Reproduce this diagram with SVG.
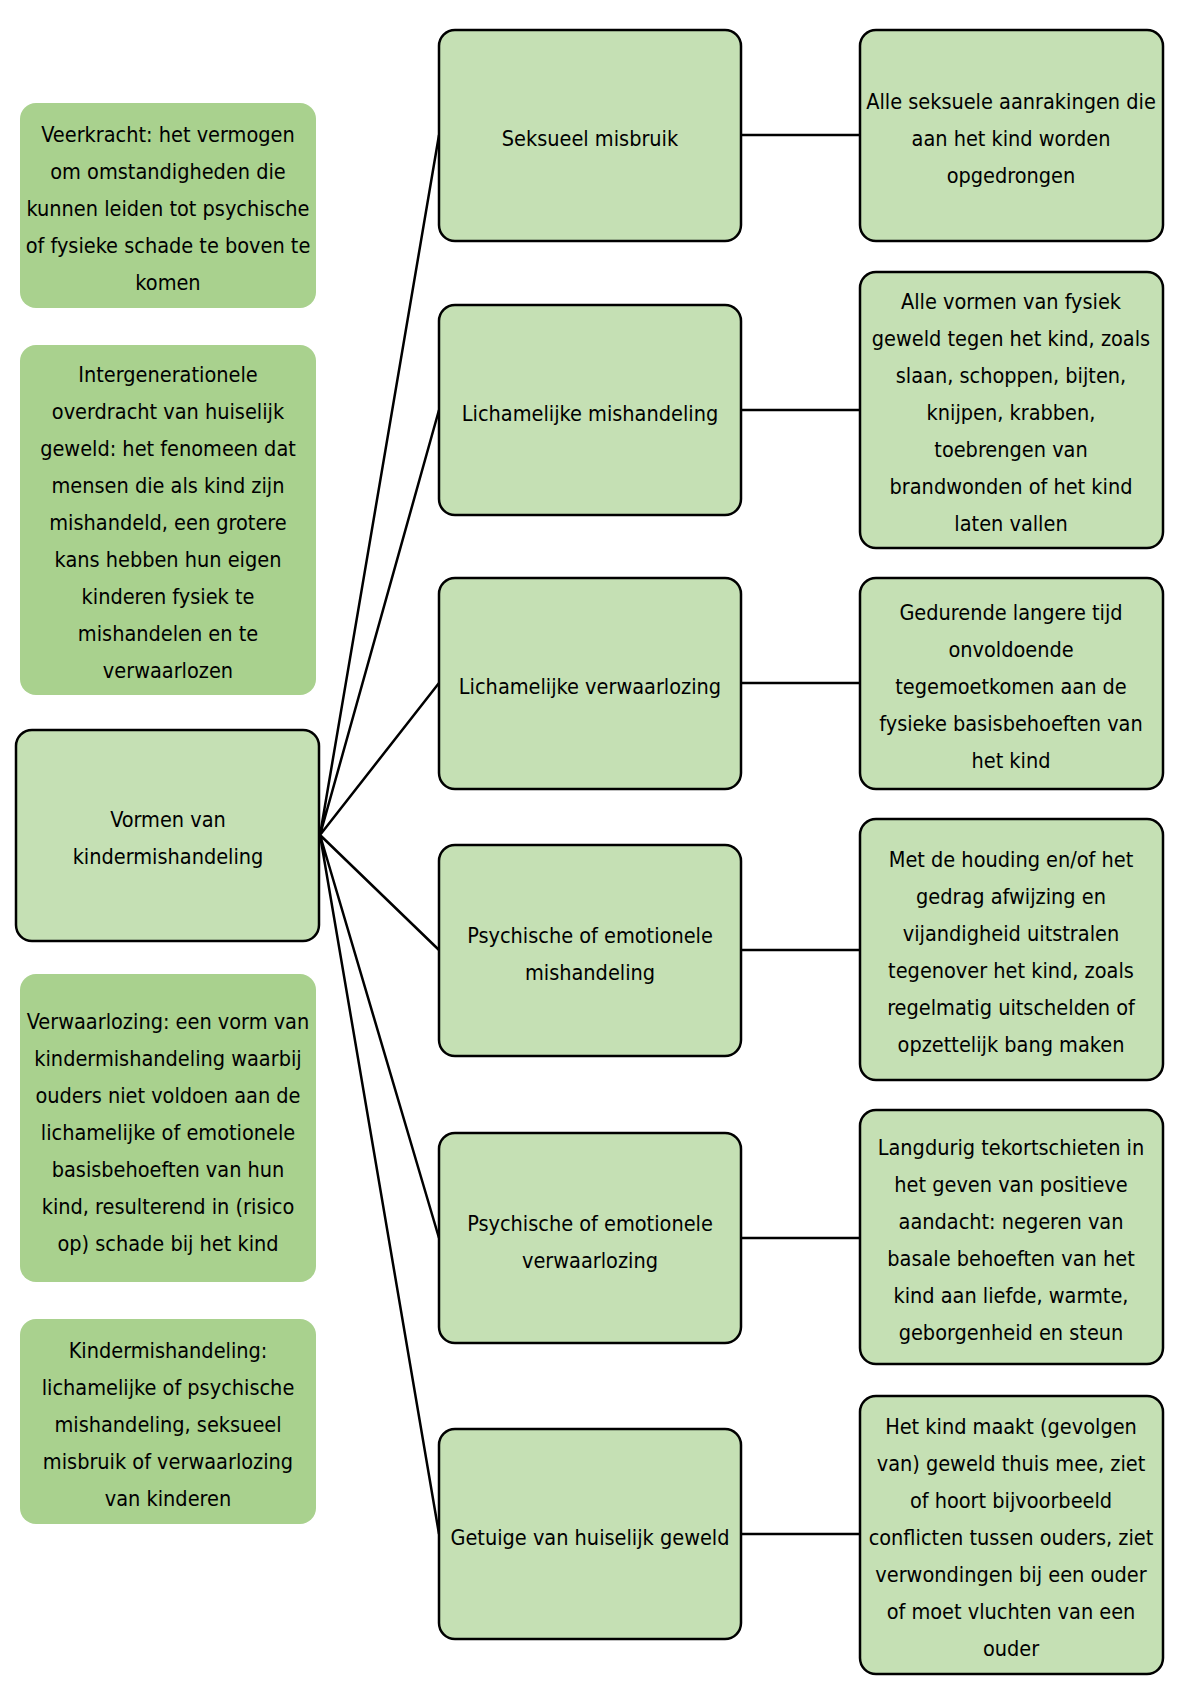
<svg xmlns="http://www.w3.org/2000/svg" width="1200" height="1698" viewBox="0 0 1200 1698">
<style>
.n{fill:#c5e0b4;stroke:#000;stroke-width:2.5}
.d{fill:#a9d18e}
text{font-family:"DejaVu Sans Condensed","Liberation Sans Narrow","Liberation Sans",sans-serif;font-size:21.5px;text-anchor:middle;fill:#000}
.c{stroke:#000;stroke-width:2.5;fill:none}
</style>
<rect width="1200" height="1698" fill="#fff"/>
<g id="connectors">
<path class="c" d="M320 835L439 135M320 835L439 410M320 835L439 683M320 835L439 950M320 835L439 1238M320 835L439 1534"/>
<path class="c" d="M741 135H860M741 410H860M741 683H860M741 950H860M741 1238H860M741 1534H860"/>
</g>
<g id="def1"><rect class="d" x="20" y="103" width="296" height="205" rx="16"/>
<text x="168" y="142">Veerkracht: het vermogen</text><text x="168" y="179">om omstandigheden die</text><text x="168" y="216">kunnen leiden tot psychische</text><text x="168" y="253">of fysieke schade te boven te</text><text x="168" y="290">komen</text></g>
<g id="def2"><rect class="d" x="20" y="345" width="296" height="350" rx="16"/>
<text x="168" y="382">Intergenerationele</text><text x="168" y="419">overdracht van huiselijk</text><text x="168" y="456">geweld: het fenomeen dat</text><text x="168" y="493">mensen die als kind zijn</text><text x="168" y="530">mishandeld, een grotere</text><text x="168" y="567">kans hebben hun eigen</text><text x="168" y="604">kinderen fysiek te</text><text x="168" y="641">mishandelen en te</text><text x="168" y="678">verwaarlozen</text></g>
<g id="root"><rect class="n" x="16" y="730" width="303" height="211" rx="16"/>
<text x="168" y="827">Vormen van</text><text x="168" y="864">kindermishandeling</text></g>
<g id="def3"><rect class="d" x="20" y="974" width="296" height="308" rx="16"/>
<text x="168" y="1029">Verwaarlozing: een vorm van</text><text x="168" y="1066">kindermishandeling waarbij</text><text x="168" y="1103">ouders niet voldoen aan de</text><text x="168" y="1140">lichamelijke of emotionele</text><text x="168" y="1177">basisbehoeften van hun</text><text x="168" y="1214">kind, resulterend in (risico</text><text x="168" y="1251">op) schade bij het kind</text></g>
<g id="def4"><rect class="d" x="20" y="1319" width="296" height="205" rx="16"/>
<text x="168" y="1358">Kindermishandeling:</text><text x="168" y="1395">lichamelijke of psychische</text><text x="168" y="1432">mishandeling, seksueel</text><text x="168" y="1469">misbruik of verwaarlozing</text><text x="168" y="1506">van kinderen</text></g>
<g id="m1"><rect class="n" x="439" y="30" width="302" height="211" rx="16"/><text x="590" y="146">Seksueel misbruik</text></g>
<g id="m2"><rect class="n" x="439" y="305" width="302" height="210" rx="16"/><text x="590" y="421">Lichamelijke mishandeling</text></g>
<g id="m3"><rect class="n" x="439" y="578" width="302" height="211" rx="16"/><text x="590" y="694">Lichamelijke verwaarlozing</text></g>
<g id="m4"><rect class="n" x="439" y="845" width="302" height="211" rx="16"/><text x="590" y="943">Psychische of emotionele</text><text x="590" y="980">mishandeling</text></g>
<g id="m5"><rect class="n" x="439" y="1133" width="302" height="210" rx="16"/><text x="590" y="1231">Psychische of emotionele</text><text x="590" y="1268">verwaarlozing</text></g>
<g id="m6"><rect class="n" x="439" y="1429" width="302" height="210" rx="16"/><text x="590" y="1545">Getuige van huiselijk geweld</text></g>
<g id="r1"><rect class="n" x="860" y="30" width="303" height="211" rx="16"/>
<text x="1011" y="109">Alle seksuele aanrakingen die</text><text x="1011" y="146">aan het kind worden</text><text x="1011" y="183">opgedrongen</text></g>
<g id="r2"><rect class="n" x="860" y="272" width="303" height="276" rx="16"/>
<text x="1011" y="309">Alle vormen van fysiek</text><text x="1011" y="346">geweld tegen het kind, zoals</text><text x="1011" y="383">slaan, schoppen, bijten,</text><text x="1011" y="420">knijpen, krabben,</text><text x="1011" y="457">toebrengen van</text><text x="1011" y="494">brandwonden of het kind</text><text x="1011" y="531">laten vallen</text></g>
<g id="r3"><rect class="n" x="860" y="578" width="303" height="211" rx="16"/>
<text x="1011" y="620">Gedurende langere tijd</text><text x="1011" y="657">onvoldoende</text><text x="1011" y="694">tegemoetkomen aan de</text><text x="1011" y="731">fysieke basisbehoeften van</text><text x="1011" y="768">het kind</text></g>
<g id="r4"><rect class="n" x="860" y="819" width="303" height="261" rx="16"/>
<text x="1011" y="867">Met de houding en/of het</text><text x="1011" y="904">gedrag afwijzing en</text><text x="1011" y="941">vijandigheid uitstralen</text><text x="1011" y="978">tegenover het kind, zoals</text><text x="1011" y="1015">regelmatig uitschelden of</text><text x="1011" y="1052">opzettelijk bang maken</text></g>
<g id="r5"><rect class="n" x="860" y="1110" width="303" height="254" rx="16"/>
<text x="1011" y="1155">Langdurig tekortschieten in</text><text x="1011" y="1192">het geven van positieve</text><text x="1011" y="1229">aandacht: negeren van</text><text x="1011" y="1266">basale behoeften van het</text><text x="1011" y="1303">kind aan liefde, warmte,</text><text x="1011" y="1340">geborgenheid en steun</text></g>
<g id="r6"><rect class="n" x="860" y="1396" width="303" height="278" rx="16"/>
<text x="1011" y="1434">Het kind maakt (gevolgen</text><text x="1011" y="1471">van) geweld thuis mee, ziet</text><text x="1011" y="1508">of hoort bijvoorbeeld</text><text x="1011" y="1545">conflicten tussen ouders, ziet</text><text x="1011" y="1582">verwondingen bij een ouder</text><text x="1011" y="1619">of moet vluchten van een</text><text x="1011" y="1656">ouder</text></g>
</svg>
